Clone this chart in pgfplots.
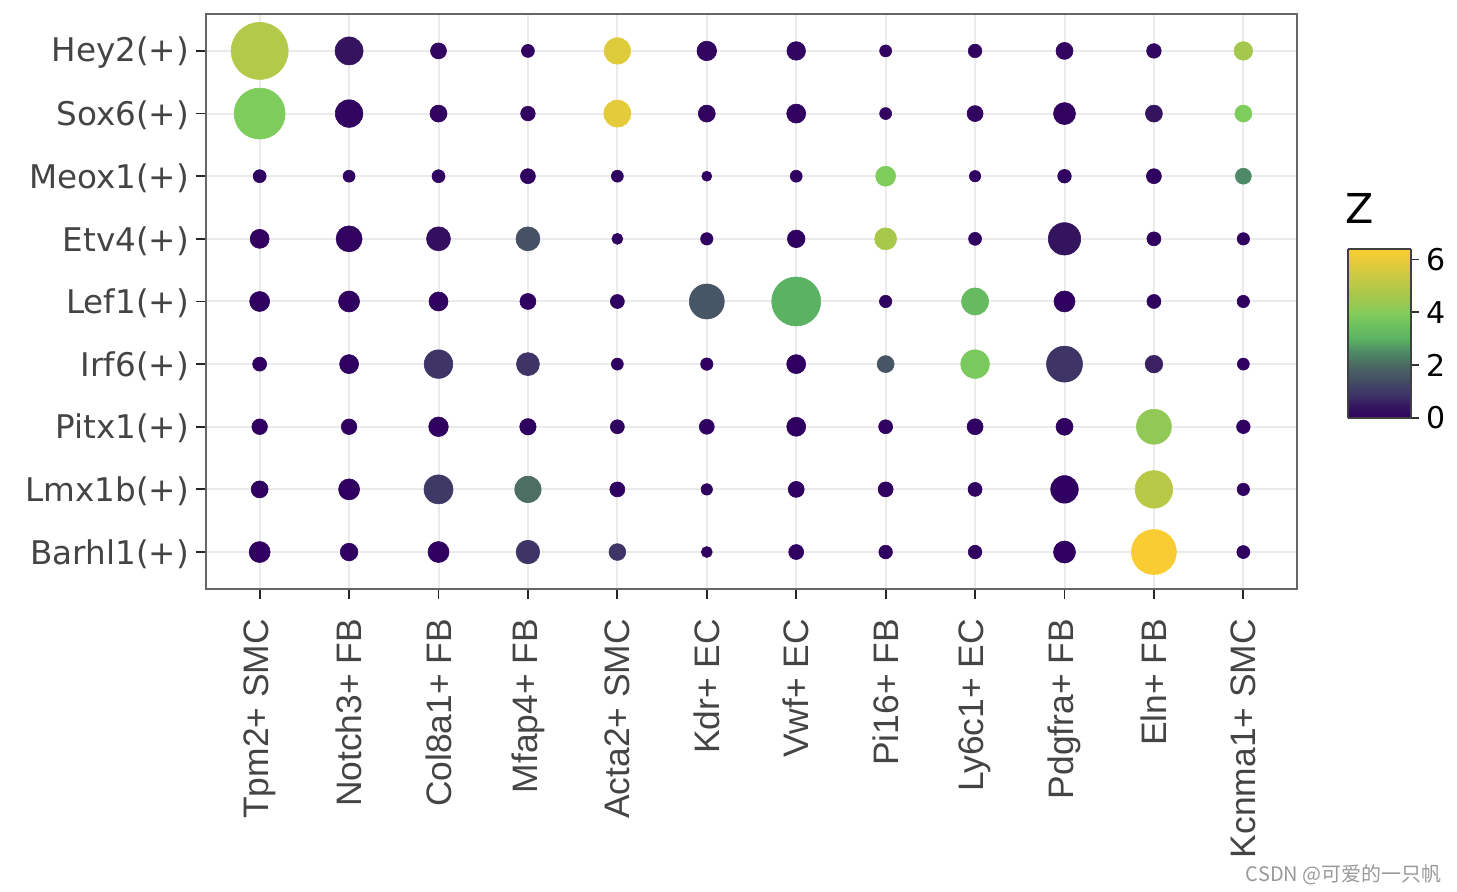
\documentclass[border=0pt]{standalone}
\usepackage{pgfplots}
\pgfplotsset{compat=1.18}
\usepackage{pgfplotstable}
\usepackage{fontspec}
\setmainfont{DejaVu Sans}
\newfontfamily\arialf{Liberation Sans}
\newfontfamily\cjk{Noto Sans CJK SC}
\definecolor{lblgray}{HTML}{444444}
\definecolor{framegray}{HTML}{666666}
\definecolor{gridgray}{HTML}{EBEBEB}

\pgfplotstableread{
x y z r
0 8 4.9 14.25
1 8 0.4 7.0
2 8 0.1 4.0
3 8 0.05 3.25
4 8 5.8 6.6
5 8 0.1 4.9
6 8 0.1 4.65
7 8 0.05 3.0
8 8 0.05 3.4
9 8 0.1 4.25
10 8 0.1 3.65
11 8 4.6 4.65
0 7 3.9 12.75
1 7 0.1 6.9
2 7 0.05 4.25
3 7 0.05 3.65
4 7 5.9 6.75
5 7 0.05 4.25
6 7 0.05 4.75
7 7 0.05 3.0
8 7 0.05 4.0
9 7 0.05 5.5
10 7 0.4 4.25
11 7 3.9 4.25
0 6 0 3.25
1 6 0 3.0
2 6 0 3.25
3 6 0 3.75
4 6 0 3.0
5 6 0 2.5
6 6 0 3.0
7 6 3.9 5.0
8 6 0 2.85
9 6 0 3.4
10 6 0 3.75
11 6 2.5 4.0
0 5 0.05 4.75
1 5 0.05 6.5
2 5 0.3 6.0
3 5 1.5 6.0
4 5 0 2.75
5 5 0 3.1
6 5 0 4.4
7 5 4.7 5.5
8 5 0 3.25
9 5 0.4 8.1
10 5 0 3.5
11 5 0 3.1
0 4 0 5.0
1 4 0 5.25
2 4 0 4.75
3 4 0 4.0
4 4 0 3.5
5 4 1.6 8.75
6 4 3.0 12.25
7 4 0 3.1
8 4 3.3 6.75
9 4 0 5.25
10 4 0 3.5
11 4 0 3.1
0 3 0 3.5
1 3 0 4.75
2 3 0.9 7.15
3 3 0.9 5.75
4 3 0 3.0
5 3 0 3.1
6 3 0 4.75
7 3 1.6 4.25
8 3 3.8 7.15
9 3 0.9 9.0
10 3 0.6 4.4
11 3 0 3.0
0 2 0 3.9
1 2 0 3.9
2 2 0 4.9
3 2 0 4.1
4 2 0 3.5
5 2 0 3.75
6 2 0 4.75
7 2 0 3.5
8 2 0 4.0
9 2 0 4.25
10 2 4.2 8.75
11 2 0 3.4
0 1 0 4.25
1 1 0 5.25
2 1 1.0 7.25
3 1 2.1 6.6
4 1 0 3.75
5 1 0 2.85
6 1 0 4.0
7 1 0 3.75
8 1 0 3.5
9 1 0 6.9
10 1 5.0 9.4
11 1 0 3.1
0 0 0 5.25
1 0 0 4.4
2 0 0 5.25
3 0 0.9 5.9
4 0 0.9 4.2
5 0 0 2.75
6 0 0 3.75
7 0 0 3.4
8 0 0 3.4
9 0 0 5.5
10 0 6.3 11.25
11 0 0 3.25
}\dotdata

\begin{document}
\begin{tikzpicture}
\useasboundingbox (0,0) rectangle (728.5pt,446pt);
\begin{axis}[
  at={(103pt,151.5pt)}, anchor=south west,
  scale only axis, width=545.5pt, height=287.5pt,
  xmin=-0.6, xmax=11.6, ymin=-0.59, ymax=8.59,
  xtick={0,...,11}, ytick={0,...,8},
  xticklabels={Tpm2+ SMC, Notch3+ FB, Col8a1+ FB, Mfap4+ FB, Acta2+ SMC, Kdr+ EC, Vwf+ EC, Pi16+ FB, Ly6c1+ EC, Pdgfra+ FB, Eln+ FB, Kcnma1+ SMC},
  yticklabels={Barhl1(+), Lmx1b(+), Pitx1(+), Irf6(+), Lef1(+), Etv4(+), Meox1(+), Sox6(+), Hey2(+)},
  xticklabel style={rotate=90, anchor=east, font=\arialf\fontsize{17.7}{17.7}\selectfont, text=lblgray},
  xticklabel shift=6.5pt,
  yticklabel style={font=\fontsize{16.3}{16.3}\selectfont, text=lblgray, yshift=-1pt},
  tick align=outside, major tick length=5pt,
  xtick pos=bottom, ytick pos=left,
  tick style={draw=black!85, line width=0.9pt},
  grid=major, major grid style={draw=gridgray, line width=1pt},
  axis line style={draw=framegray, line width=1.1pt},
  clip=false,
  colormap={zmap}{rgb255(0pt)=(48,0,96); rgb255(4pt)=(53,20,95); rgb255(9pt)=(62,52,102); rgb255(16pt)=(70,86,101); rgb255(21pt)=(76,110,99); rgb255(25pt)=(78,138,102); rgb255(30pt)=(91,178,98); rgb255(33pt)=(102,187,96); rgb255(39pt)=(126,204,92); rgb255(42pt)=(146,201,86); rgb255(47pt)=(168,200,75); rgb255(50pt)=(184,201,72); rgb255(58pt)=(222,203,60); rgb255(64pt)=(253,204,48)},
  point meta min=0, point meta max=6.4,
  colorbar sampled,
  colorbar style={
    at={(1.0467,0.5913)}, anchor=north west,
    scale only axis, width=31.5pt, height=84.5pt,
    samples=90,
    ytick={0,2,4,6},
    yticklabel pos=right, ytick pos=right,
    /pgf/number format/assume math mode=true,
    yticklabel style={font=\fontsize{15}{15}\selectfont, text=black},
    tick align=outside, major tick length=4pt,
    tick style={draw=black!80, line width=0.9pt},
    axis line style={draw=black!75, line width=1.2pt},
    grid=none,
  },
]
\addplot[scatter, only marks, mark=*, point meta=explicit,
  scatter/use mapped color={draw=mapped color, fill=mapped color},
  visualization depends on={\thisrow{r} \as \perpointsize},
  scatter/@pre marker code/.append style={/tikz/mark size=\perpointsize},
  mark options={line width=0.3pt}]
  table[x=x, y=y, meta=z]{\dotdata};
\end{axis}
\node[font=\fontsize{20.6}{20.6}\selectfont] at (680pt,342pt) {Z};
\node[anchor=base east, inner sep=0pt, text=black!40, font=\cjk\fontsize{10}{10}\selectfont] at (721pt,5pt) {CSDN @可爱的一只帆};
\end{tikzpicture}
\end{document}
